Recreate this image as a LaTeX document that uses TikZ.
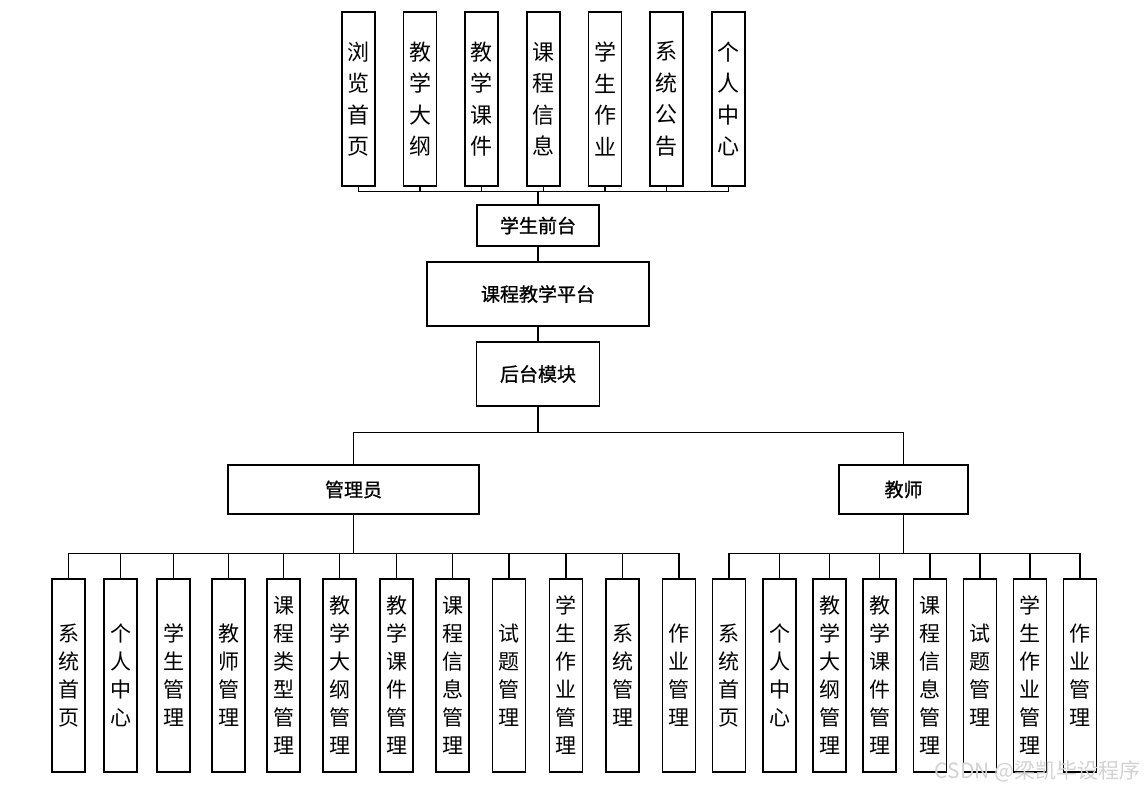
\documentclass[tikz,border=0pt]{standalone}
\usepackage{fontspec}
\setmainfont{Noto Sans CJK SC}
\newfontfamily\midfont[FakeBold=1]{Noto Sans CJK SC}
\usetikzlibrary{positioning}

\begin{document}
\begin{tikzpicture}[x=1pt,y=-1pt,
  box/.style={draw,line width=1.3pt,fill=white,inner sep=0pt,align=center},
  topbox/.style={box,minimum width=33pt,minimum height=174pt,font=\fontsize{22}{31.5}\selectfont},
  leafbox/.style={box,minimum width=33pt,minimum height=193pt,font=\fontsize{21}{28}\selectfont},
  midbox/.style={box,font=\fontsize{19}{22}\selectfont\midfont},
  wire/.style={line width=1.3pt}]
\useasboundingbox (0,0) rectangle (1147,791);
% front end
\foreach \x/\t [count=\i] in {358.5/{浏\\览\\首\\页},420/{教\\学\\大\\纲},481.5/{教\\学\\课\\件},
  543.5/{课\\程\\信\\息},605/{学\\生\\作\\业},666.5/{系\\统\\公\\告},728.5/{个\\人\\中\\心}}{
\node[topbox] (t\i) at (\x,99) {\t};
}
\node[midbox,minimum width=122pt,minimum height=41pt] (xsqt) at (538,225.5) {学生前台};
\node[midbox,minimum width=222pt,minimum height=64pt] (kcpt) at (538,294) {课程教学平台};
\node[midbox,minimum width=123pt,minimum height=64pt] (htmk) at (538,374) {后台模块};
\node[midbox,minimum width=251pt,minimum height=49pt] (gly) at (353.5,489.5) {管理员};
\node[midbox,minimum width=129pt,minimum height=49pt] (js) at (903.5,489.5) {教师};
\draw[wire] (xsqt.north) -- ++(0,-13) coordinate (tj);
\foreach \i in {1,...,7}{
\draw[wire] (tj) -| (t\i.south);
}
\draw[wire] (xsqt) -- (kcpt);
\draw[wire] (kcpt) -- (htmk);
\draw[wire] (htmk.south) -- ++(0,26) coordinate (mj);
\draw[wire] (mj) -| (gly.north);
\draw[wire] (mj) -| (js.north);
% admin
\foreach \x/\t [count=\i] in {68.5/{系\\统\\首\\页},120.5/{个\\人\\中\\心},173.5/{学\\生\\管\\理},
  228.5/{教\\师\\管\\理},283.5/{课\\程\\类\\型\\管\\理},339.5/{教\\学\\大\\纲\\管\\理},
  396.5/{教\\学\\课\\件\\管\\理},452.5/{课\\程\\信\\息\\管\\理},509/{试\\题\\管\\理},
  566/{学\\生\\作\\业\\管\\理},622.5/{系\\统\\管\\理},679/{作\\业\\管\\理}}{
\node[leafbox] (a\i) at (\x,675.5) {\t};
}
\draw[wire] (gly.south) -- ++(0,39) coordinate (lj);
\foreach \i in {1,...,12}{
\draw[wire] (lj) -| (a\i.north);
}
% teacher
\foreach \x/\t [count=\i] in {729/{系\\统\\首\\页},779.5/{个\\人\\中\\心},829.5/{教\\学\\大\\纲\\管\\理},
  879.5/{教\\学\\课\\件\\管\\理},930/{课\\程\\信\\息\\管\\理},980/{试\\题\\管\\理},
  1030/{学\\生\\作\\业\\管\\理},1080/{作\\业\\管\\理}}{
\node[leafbox] (b\i) at (\x,675.5) {\t};
}
\draw[wire] (js.south) -- ++(0,39) coordinate (rj);
\foreach \i in {1,...,8}{
\draw[wire] (rj) -| (b\i.north);
}
\node[anchor=east,text=gray!35,font=\fontsize{21}{22}\selectfont] (wm) at (1144,771) {CSDN @梁凯毕设程序};
\end{tikzpicture}
\end{document}
